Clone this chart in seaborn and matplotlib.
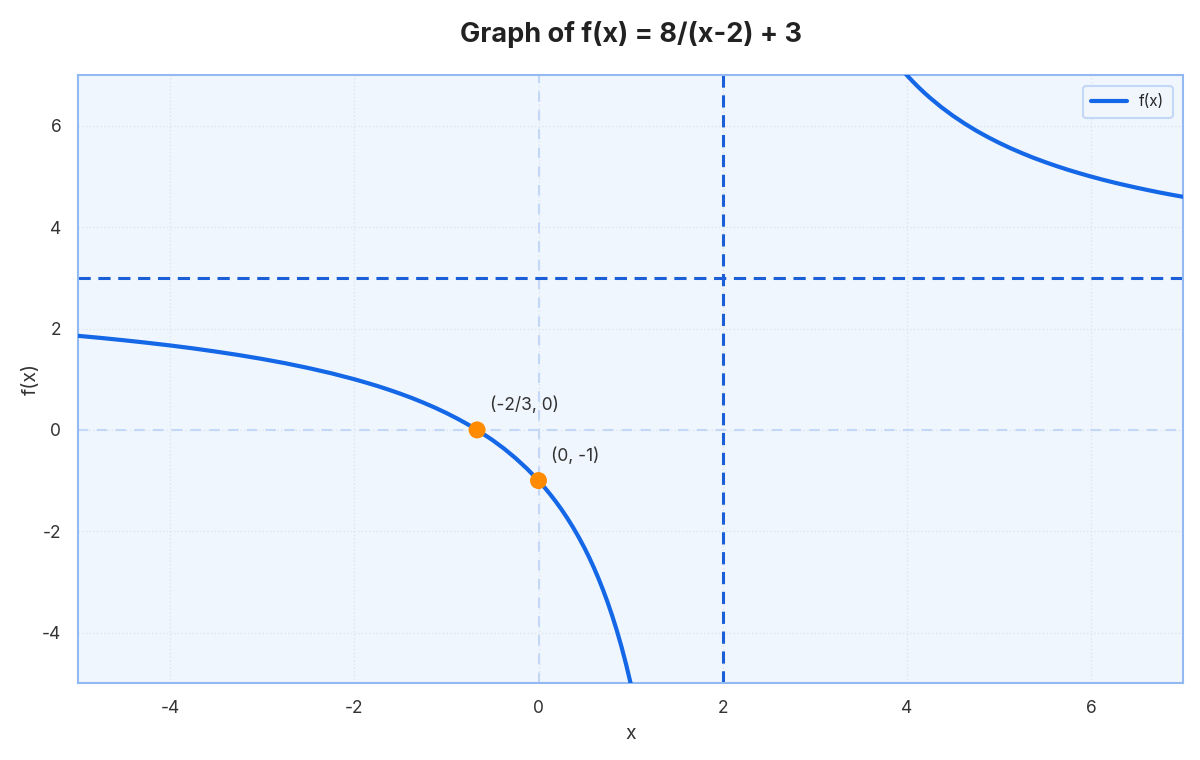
import matplotlib
matplotlib.use("Agg")
import matplotlib.pyplot as plt
import seaborn as sns
import pandas as pd

# Values
left_x = [-5.0, -4.75, -4.5, -4.25, -4.0, -3.75, -3.5, -3.25, -3.0, -2.75, -2.5, -2.25,
          -2.0, -1.875, -1.75, -1.625, -1.5, -1.375, -1.25, -1.125, -1.0, -0.875, -0.75,
          -0.667, -0.5, -0.375, -0.25, -0.125, 0.0, 0.0625, 0.125, 0.1875, 0.25, 0.3125,
          0.375, 0.4375, 0.5, 0.55, 0.6, 0.65, 0.7, 0.75, 0.8, 0.85, 0.9, 0.95, 1.0, 1.05]
left_y = [1.857, 1.815, 1.769, 1.72, 1.667, 1.609, 1.545, 1.476, 1.4, 1.316, 1.222, 1.118,
          1.0, 0.935, 0.867, 0.793, 0.714, 0.630, 0.538, 0.44, 0.333, 0.217, 0.091,
          0.0, -0.2, -0.368, -0.556, -0.765, -1.0, -1.129, -1.267, -1.414, -1.571, -1.741,
          -1.923, -2.12, -2.333, -2.517, -2.714, -2.926, -3.154, -3.4, -3.667, -3.957,
          -4.273, -4.619, -5.0, -5.42]
right_x = [3.9, 3.95, 4.0, 4.0625, 4.125, 4.1875, 4.25, 4.375, 4.5, 4.625, 4.75, 4.875,
           5.0, 5.125, 5.25, 5.375, 5.5, 5.625, 5.75, 5.875, 6.0, 6.125, 6.25, 6.375,
           6.5, 6.625, 6.75, 6.875, 7.0]
right_y = [7.21, 7.103, 7.0, 6.879, 6.765, 6.657, 6.556, 6.368, 6.2, 6.048, 5.909, 5.783,
           5.667, 5.56, 5.462, 5.370, 5.286, 5.207, 5.133, 5.065, 5.0, 4.939, 4.882, 4.829,
           4.778, 4.730, 4.684, 4.641, 4.6]
vert_asymptote = 2
horiz_asymptote = 3
point_x = [-2/3, 0]
point_y = [0, -1]
point_labels = ["(-2/3, 0)", "(0, -1)"]

sns.set_theme(style="white")
plt.rcParams["font.family"] = ["Inter", "DejaVu Sans"]

fig = plt.figure(figsize=(12, 7.6), dpi=100)
ax = fig.add_axes([0.065, 0.101, 0.921, 0.8])
ax.set_facecolor("#f0f6fd")

curve = "#1467e6"
df_l = pd.DataFrame({"x": left_x, "y": left_y})
df_r = pd.DataFrame({"x": right_x, "y": right_y})

ax.grid(True, linestyle=":", color="#dce5f2", linewidth=1)
ax.axhline(0, color="#c3d8f7", linestyle="--", linewidth=1.5, dashes=(5, 4), zorder=1)
ax.axvline(0, color="#c3d8f7", linestyle="--", linewidth=1.5, dashes=(5, 4), zorder=1)
ax.axvline(vert_asymptote, color="#1a5fd8", linestyle="--", linewidth=2.2, dashes=(4, 2.5), zorder=2)
ax.axhline(horiz_asymptote, color="#1a5fd8", linestyle="--", linewidth=2.2, dashes=(4, 2.5), zorder=2)

sns.lineplot(data=df_l, x="x", y="y", ax=ax, color=curve, linewidth=3, label="f(x)", zorder=3, sort=False)
sns.lineplot(data=df_r, x="x", y="y", ax=ax, color=curve, linewidth=3, zorder=3, sort=False)

ax.scatter(point_x, point_y, s=150, color="#ff8c00", zorder=5, edgecolor="none")
for px, py, lab in zip(point_x, point_y, point_labels):
    ax.annotate(lab, (px, py), xytext=(9, 14), textcoords="offset points",
                fontsize=12.5, color="#333333")

ax.set_xlim(-5, 7)
ax.set_ylim(-5, 7)
ax.set_xticks([-4, -2, 0, 2, 4, 6])
ax.set_yticks([-4, -2, 0, 2, 4, 6])
ax.set_xticklabels(["-4", "-2", "0", "2", "4", "6"])
ax.set_yticklabels(["-4", "-2", "0", "2", "4", "6"])
ax.tick_params(axis="both", length=0, labelsize=12.5, colors="#333333", pad=12)
ax.set_xlabel("x", fontsize=14, color="#333333", labelpad=6)
ax.set_ylabel("f(x)", fontsize=14, color="#333333", labelpad=2)
for s in ax.spines.values():
    s.set_color("#93b9f2")
    s.set_linewidth(1.5)

leg = ax.legend(loc="upper right", fontsize=11, frameon=True, handlelength=2.3,
                borderpad=0.55, borderaxespad=0.7)
leg.get_frame().set_edgecolor("#b8d0f5")
leg.get_frame().set_linewidth(1.5)
leg.get_frame().set_facecolor("#f2f7fe")

ax.set_title("Graph of f(x) = 8/(x-2) + 3", fontsize=19.5, fontweight="bold",
             color="#222222", pad=24)
fig.savefig("out.png", dpi=100, facecolor="white")
